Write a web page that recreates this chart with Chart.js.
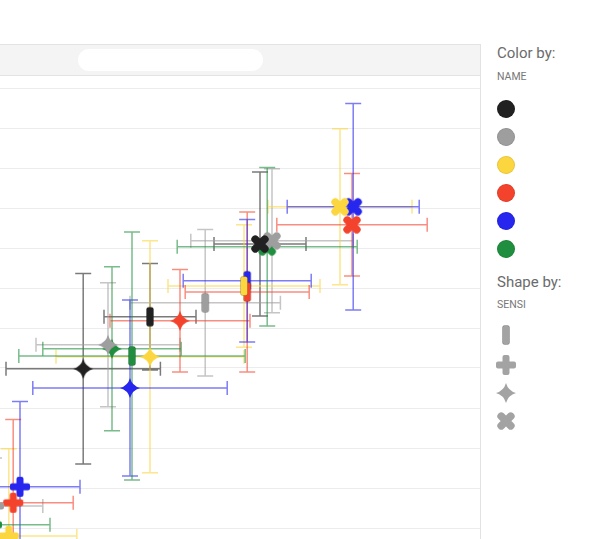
<!DOCTYPE html>
<html>
<head>
<meta charset="utf-8">
<script src="https://cdn.jsdelivr.net/npm/chart.js@4.4.1/dist/chart.umd.min.js"></script>
<style>
  body { margin: 0; width: 589px; height: 539px; overflow: hidden; background: #fff; position: relative;
         font-family: Roboto, "Noto Sans", sans-serif; }
  #head { position: absolute; left: 0; top: 44px; width: 480px; height: 30px; background: #f4f4f4;
          border-top: 1px solid #e3e3e3; border-bottom: 1px solid #e3e3e3; }
  #pill { position: absolute; left: 78px; top: 4px; width: 185px; height: 22px; background: #fff; border-radius: 11px; }
  #edge { position: absolute; left: 480px; top: 44px; width: 1px; height: 495px; background: #e2e2e2; }
  #wrap { position: absolute; left: 0; top: 76px; width: 480px; height: 463px; }
  .lg { position: absolute; left: 497px; color: #6b6b6b; white-space: nowrap; }
  .big { font-size: 15px; line-height: 18px; }
  .small { font-size: 10.5px; line-height: 12px; color: #777; }
  .dot { position: absolute; left: 497px; width: 18px; height: 18px; border-radius: 50%; box-sizing: border-box; }
  .icon { position: absolute; left: 494px; }
</style>
</head>
<body>
<div id="head"><div id="pill"></div></div>
<div id="edge"></div>
<div id="wrap"><canvas id="chart" width="480" height="463"></canvas></div>
<div id="legend"></div>
<script>
// series: one per NAME colour, each with four SENSI shapes
const names = ['black', 'gray', 'yellow', 'red', 'blue', 'green'];
const colors = ['#212121', '#9e9e9e', '#fcd63f', '#f4432c', '#2626ee', '#1f8f3f'];
const shapes = ['bar', 'plus', 'star', 'cross'];
const yGrid = [1, 2, 3, 4, 5, 6, 7, 8, 9, 10, 11, 12];

// values per shape: bar, plus, star, cross
const blackX    = [3.75, null, 2.08, 6.50];
const blackY    = [6.28, null, 4.98, 8.10];
const blackXErr = [1.15, null, 1.93, 1.15];
const blackYErr = [1.33, null, 2.38, 1.80];

const grayX    = [5.13, -0.15, 2.70, 6.80];
const grayY    = [6.63, 1.55, 5.58, 8.18];
const grayXErr = [1.88, 1.22, 1.80, 2.03];
const grayYErr = [1.83, 1.20, 1.55, 1.80];

const yellowX    = [6.10, 0.22, 3.75, 8.50];
const yellowY    = [7.05, 0.80, 5.28, 9.03];
const yellowXErr = [1.90, 1.70, 2.35, 1.80];
const yellowYErr = [1.53, 2.18, 2.90, 1.95];

const redX    = [6.18, 0.33, 4.50, 8.80];
const redY    = [6.90, 1.63, 6.18, 8.58];
const redXErr = [1.55, 1.50, 1.75, 1.88];
const redYErr = [2.00, 2.08, 1.28, 1.28];

const blueX    = [6.18, 0.50, 3.25, 8.83];
const blueY    = [7.18, 2.03, 4.50, 9.03];
const blueXErr = [1.60, 1.50, 2.43, 1.65];
const blueYErr = [1.53, 2.13, 2.20, 2.58];

const greenX    = [3.30, -0.20, 2.80, 6.68];
const greenY    = [5.30, 1.08, 5.48, 8.03];
const greenXErr = [2.83, 1.45, 1.73, 2.25];
const greenYErr = [3.10, 1.50, 2.05, 1.98];

const seriesX = [blackX, grayX, yellowX, redX, blueX, greenX];
const seriesY = [blackY, grayY, yellowY, redY, blueY, greenY];
const seriesXErr = [blackXErr, grayXErr, yellowXErr, redXErr, blueXErr, greenXErr];
const seriesYErr = [blackYErr, grayYErr, yellowYErr, redYErr, blueYErr, greenYErr];

function fade(hex, a) {
  const n = parseInt(hex.slice(1), 16);
  return `rgba(${n >> 16},${(n >> 8) & 255},${n & 255},${a})`;
}

// marker images for each colour/shape
function makeIcon(color, shape) {
  const cv = document.createElement('canvas');
  cv.width = 24; cv.height = 24;
  const c = cv.getContext('2d');
  c.translate(12, 12);
  c.fillStyle = color;
  c.strokeStyle = 'rgba(0,0,0,0.18)';
  c.lineWidth = 1;
  if (shape === 'bar') {
    c.beginPath();
    c.roundRect(-3.5, -9.5, 7, 19, 2);
    c.fill();
    c.stroke();
  } else if (shape === 'plus') {
    c.beginPath();
    c.roundRect(-3.5, -10, 7, 20, 2);
    c.roundRect(-10, -3.5, 20, 7, 2);
    c.fill();
  } else if (shape === 'star') {
    c.beginPath();
    c.moveTo(0, -10);
    c.quadraticCurveTo(2.2, -2.2, 10, 0);
    c.quadraticCurveTo(2.2, 2.2, 0, 10);
    c.quadraticCurveTo(-2.2, 2.2, -10, 0);
    c.quadraticCurveTo(-2.2, -2.2, 0, -10);
    c.fill();
  } else {
    c.rotate(Math.PI / 4);
    c.beginPath();
    c.roundRect(-3.8, -10.5, 7.6, 21, 3.5);
    c.roundRect(-10.5, -3.8, 21, 7.6, 3.5);
    c.fill();
  }
  return cv;
}

const icons = colors.map(col => shapes.map(s => makeIcon(col, s)));

const errorBars = {
  id: 'errorBars',
  beforeDatasetsDraw(chart) {
    const { ctx, chartArea: a, scales: { x, y } } = chart;
    ctx.save();
    ctx.beginPath();
    ctx.rect(a.left, a.top, a.width, a.height);
    ctx.clip();
    ctx.lineWidth = 1.5;
    chart.data.datasets.forEach((ds, i) => {
      ctx.strokeStyle = fade(colors[i], 0.6);
      ds.data.forEach(p => {
        const cx = x.getPixelForValue(p.x), cy = y.getPixelForValue(p.y);
        const x0 = x.getPixelForValue(p.x - p.xe), x1 = x.getPixelForValue(p.x + p.xe);
        const y0 = y.getPixelForValue(p.y + p.ye), y1 = y.getPixelForValue(p.y - p.ye);
        ctx.beginPath();
        ctx.moveTo(x0, cy); ctx.lineTo(x1, cy);
        ctx.moveTo(x0, cy - 7); ctx.lineTo(x0, cy + 7);
        ctx.moveTo(x1, cy - 7); ctx.lineTo(x1, cy + 7);
        ctx.moveTo(cx, y0); ctx.lineTo(cx, y1);
        ctx.moveTo(cx - 8, y0); ctx.lineTo(cx + 8, y0);
        ctx.moveTo(cx - 8, y1); ctx.lineTo(cx + 8, y1);
        ctx.stroke();
      });
    });
    ctx.restore();
  }
};

const datasets = names.map((n, i) => ({
  label: n,
  data: shapes.map((s, k) => ({
    x: seriesX[i][k], y: seriesY[i][k], xe: seriesXErr[i][k], ye: seriesYErr[i][k], s: k
  })).filter(p => p.x !== null),
  pointStyle: ctx => icons[i][ctx.raw.s],
  pointRadius: 10,
  clip: false
}));

new Chart(document.getElementById('chart').getContext('2d'), {
  type: 'scatter',
  data: { datasets },
  options: {
    responsive: false,
    animation: false,
    layout: { padding: 0, autoPadding: false },
    plugins: { legend: { display: false }, tooltip: { enabled: false } },
    scales: {
      x: { type: 'linear', min: 0, max: 12, display: false },
      y: {
        type: 'linear', min: 0.725, max: 12.3,
        afterBuildTicks: ax => { ax.ticks = yGrid.map(v => ({ value: v })); },
        ticks: { display: false },
        border: { display: false },
        grid: { color: '#ececec', lineWidth: 1, drawTicks: false }
      }
    }
  },
  plugins: [errorBars]
});

// side legend
const legend = document.getElementById('legend');
function addText(txt, cls, top) {
  const d = document.createElement('div');
  d.className = 'lg ' + cls;
  d.style.top = top + 'px';
  d.textContent = txt;
  legend.appendChild(d);
}
addText('Color by:', 'big', 44);
addText('NAME', 'small', 71);
colors.forEach((c, i) => {
  const d = document.createElement('div');
  d.className = 'dot';
  d.style.top = (100 + i * 28) + 'px';
  d.style.background = c;
  d.style.border = '1px solid ' + fade('#000000', 0.08);
  legend.appendChild(d);
});
addText('Shape by:', 'big', 273);
addText('SENSI', 'small', 299);
const iconTops = [323, 353, 381, 409];
shapes.forEach((s, k) => {
  const cv = makeIcon('#a3a3a3', s);
  cv.className = 'icon';
  cv.style.top = iconTops[k] + 'px';
  legend.appendChild(cv);
});
</script>
</body>
</html>
